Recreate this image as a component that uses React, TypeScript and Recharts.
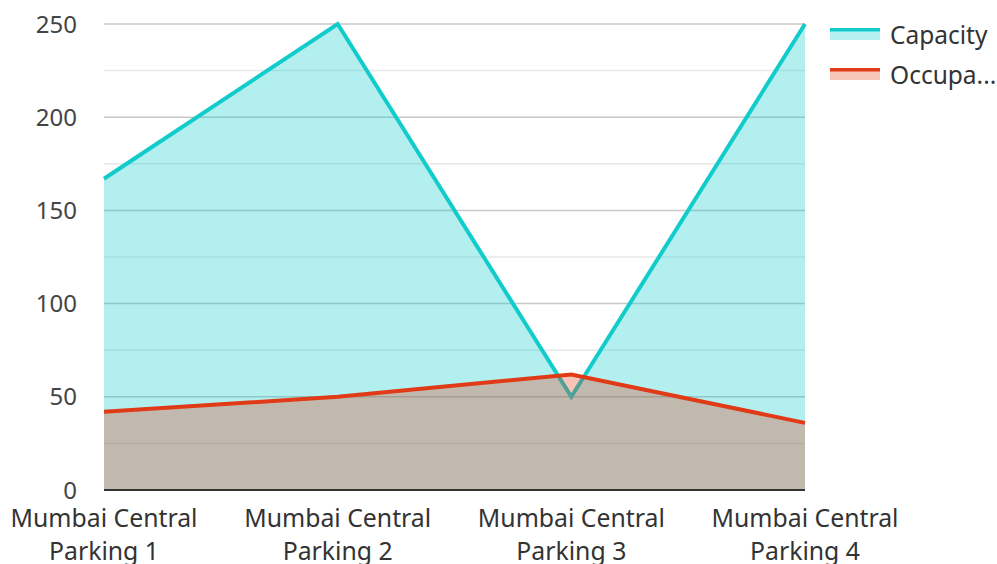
import React from "react";
import { AreaChart, Area, XAxis, YAxis, CartesianGrid } from "recharts";

const categories = ["Mumbai Central Parking 1", "Mumbai Central Parking 2", "Mumbai Central Parking 3", "Mumbai Central Parking 4"];
const capacity = [167, 250, 50, 250];
const occupancy = [42, 50, 62, 36];
const yTicks = [0, 50, 100, 150, 200, 250];
const minorTicks = [25, 75, 125, 175, 225];
const legendLabels = ["Capacity", "Occupa..."];

const data = categories.map((c, i) => ({ name: c, capacity: capacity[i], occupancy: occupancy[i] }));

const FONT = "'Noto Sans', 'Open Sans', sans-serif";
const CAP = "#12CCCC";
const OCC = "#E03A16";

const XTick = (props: any) => {
  const { x, y, payload } = props;
  const words = String(payload.value).split(" ");
  const l1 = words.slice(0, 2).join(" ");
  const l2 = words.slice(2).join(" ");
  return (
    <text x={x} y={y} textAnchor="middle" fill="#333" fontSize={24.8} fontFamily={FONT}>
      <tspan x={x} y={y + 29}>{l1}</tspan>
      <tspan x={x} y={y + 62}>{l2}</tspan>
    </text>
  );
};

const LegendBox = () => {
  const items = [
    { label: legendLabels[0], color: CAP },
    { label: legendLabels[1], color: OCC },
  ];
  return (
    <div style={{ position: "absolute", left: 830, top: 14, fontFamily: FONT, fontSize: 24.5, color: "#333" }}>
      {items.map((it, i) => (
        <div key={i} style={{ display: "flex", alignItems: "center", height: 40 }}>
          <svg width={50} height={16} style={{ marginRight: 10 }}>
            <rect x={0} y={2} width={50} height={12} fill={it.color} fillOpacity={0.3} />
            <rect x={0} y={2} width={50} height={3.5} fill={it.color} />
          </svg>
          <span style={{ whiteSpace: "nowrap" }}>{it.label}</span>
        </div>
      ))}
    </div>
  );
};

export default function App() {
  return (
    <div style={{ position: "absolute", left: 0, top: 0, width: 997, height: 564, background: "#fff", overflow: "hidden" }}>
      <AreaChart width={997} height={564} data={data} margin={{ top: 24, right: 192, left: 0, bottom: 0 }}>
        <CartesianGrid vertical={false} horizontalValues={minorTicks} stroke="#e8e8e8" strokeWidth={1.5} />
        <CartesianGrid vertical={false} stroke="#c8c8c8" strokeWidth={1.5} />
        <XAxis
          dataKey="name"
          height={74}
          tick={<XTick />}
          tickLine={false}
          axisLine={{ stroke: "#333", strokeWidth: 2 }}
          interval={0}
        />
        <YAxis
          width={104}
          domain={[0, 250]}
          ticks={yTicks}
          tickLine={false}
          axisLine={false}
          tickSize={0}
          tickMargin={27}
          tick={{ fill: "#444", fontSize: 24, fontFamily: FONT }}
        />
        <Area
          type="linear"
          dataKey="capacity"
          stroke={CAP}
          strokeWidth={4}
          fill={CAP}
          fillOpacity={0.32}
          isAnimationActive={false}
          dot={false}
          activeDot={false}
        />
        <Area
          type="linear"
          dataKey="occupancy"
          stroke={OCC}
          strokeWidth={4}
          fill={OCC}
          fillOpacity={0.3}
          isAnimationActive={false}
          dot={false}
          activeDot={false}
        />
      </AreaChart>
      <LegendBox />
    </div>
  );
}
